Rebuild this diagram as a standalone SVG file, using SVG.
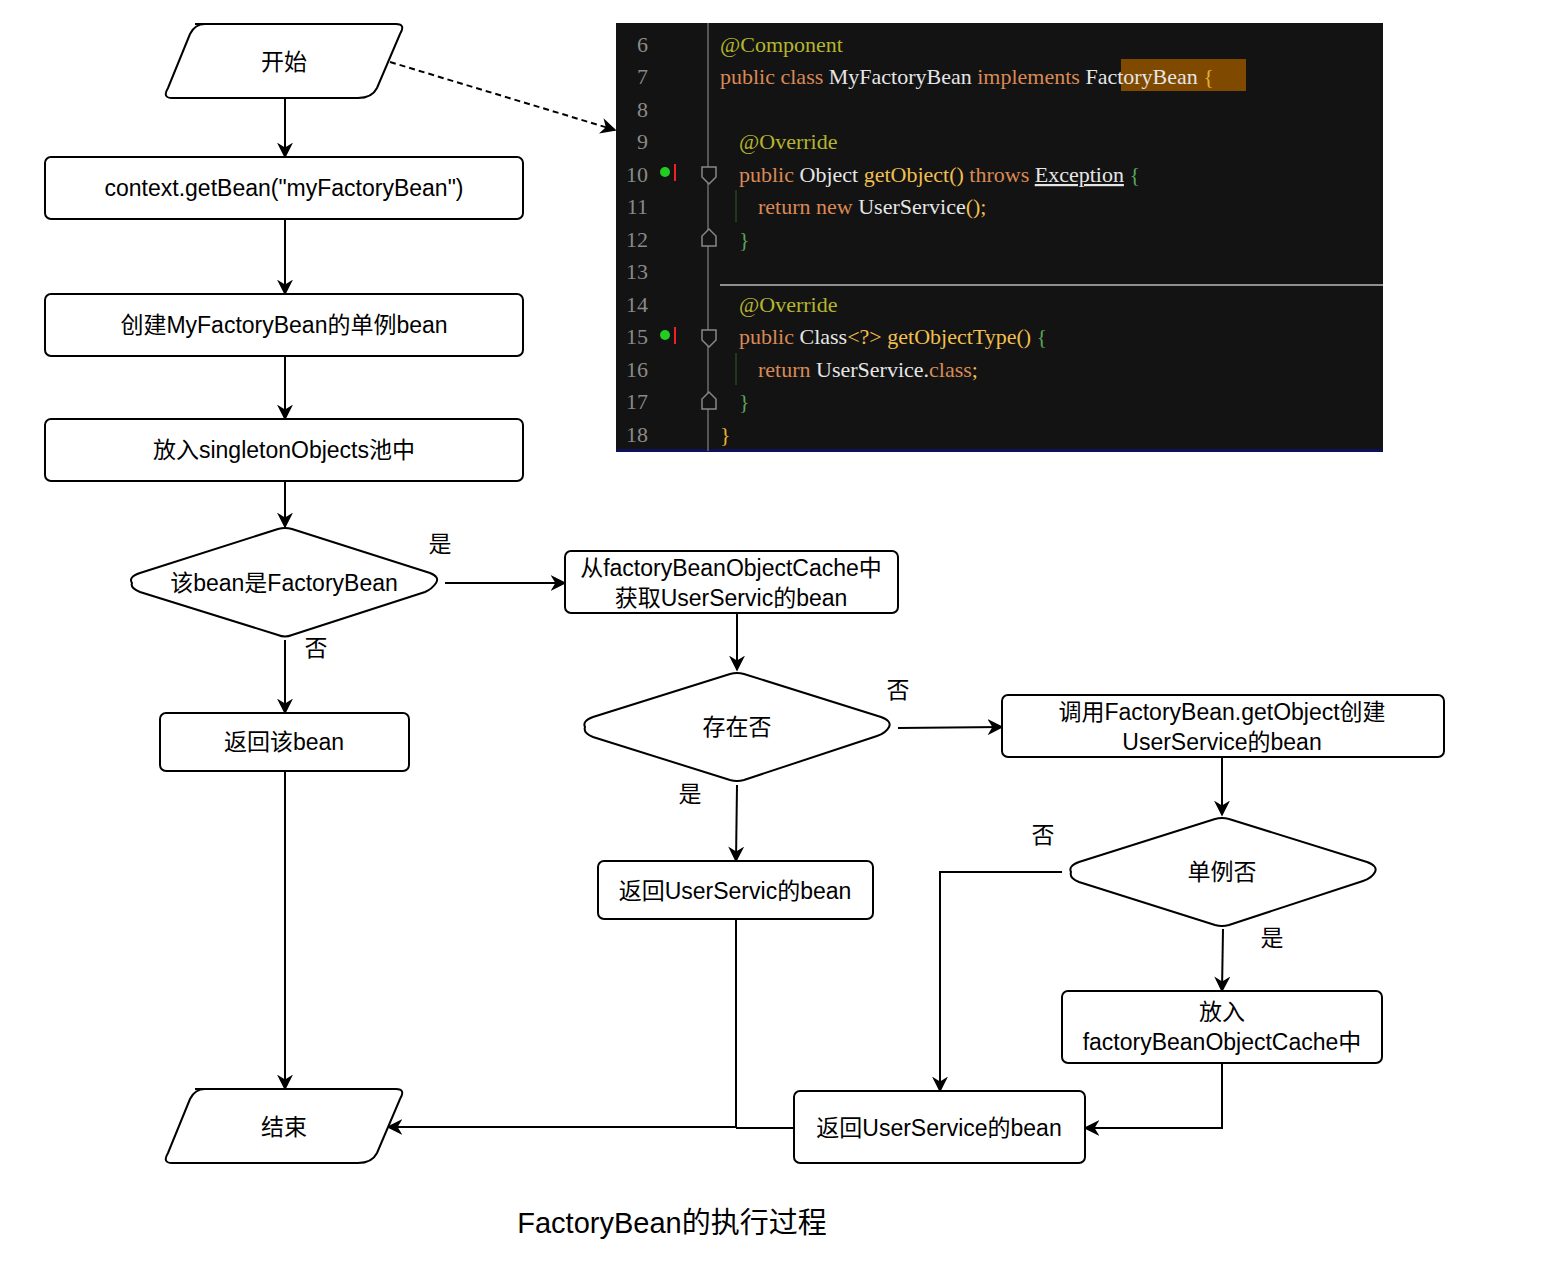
<svg xmlns="http://www.w3.org/2000/svg" width="1566" height="1283" viewBox="0 0 1566 1283">
<defs>
<marker id="a" viewBox="0 0 10 10" refX="9" refY="5" markerWidth="10" markerHeight="10" markerUnits="userSpaceOnUse" orient="auto"><path d="M0,0 L10,5 L0,10 L3,5 Z" fill="#000"/></marker>
<marker id="b" viewBox="0 0 10 10" refX="9" refY="5" markerWidth="16" markerHeight="16" markerUnits="userSpaceOnUse" orient="auto"><path d="M0,0 L10,5 L0,10 L3,5 Z" fill="#000"/></marker>
</defs>
<style>
.n{fill:#fff;stroke:#000;stroke-width:2}
.t{font-family:"Liberation Sans","Noto Sans CJK SC",sans-serif;font-size:23px;text-anchor:middle;fill:#000}
.c{fill:none;stroke:#000;stroke-width:2;marker-end:url(#b)}
.code{font-family:"Liberation Serif","DejaVu Serif",serif;font-size:22px}
.ln{fill:#8a8a8a;text-anchor:end}
.k{fill:#d98a55}.w{fill:#e6e6e6}.an{fill:#b5b52e}.m{fill:#f0bf50}.g{fill:#5aa35a}.y{fill:#e3b030}
</style>
<rect width="1566" height="1283" fill="#fff"/>
<g id="code">
<rect x="616" y="23" width="767" height="428" fill="#131313"/>
<rect x="616" y="449" width="767" height="3" fill="#10105a"/>
<line x1="708" y1="23" x2="708" y2="451" stroke="#555" stroke-width="2"/>
<line x1="720" y1="285" x2="1383" y2="285" stroke="#bbb" stroke-width="1.5"/>
<rect x="1121" y="59" width="125" height="32" fill="#7f4a00"/>
<g class="code">
<text x="648" y="52" class="ln">6</text><text x="648" y="84" class="ln">7</text><text x="648" y="117" class="ln">8</text><text x="648" y="149" class="ln">9</text><text x="648" y="182" class="ln">10</text><text x="648" y="214" class="ln">11</text><text x="648" y="247" class="ln">12</text><text x="648" y="279" class="ln">13</text><text x="648" y="312" class="ln">14</text><text x="648" y="344" class="ln">15</text><text x="648" y="377" class="ln">16</text><text x="648" y="409" class="ln">17</text><text x="648" y="442" class="ln">18</text>
<text x="720" y="52" class="an">@Component</text>
<text x="720" y="84"><tspan class="k">public class </tspan><tspan class="w">MyFactoryBean </tspan><tspan class="k">implements </tspan><tspan class="w">FactoryBean </tspan><tspan class="y">{</tspan></text>
<text x="739" y="149" class="an">@Override</text>
<text x="739" y="182"><tspan class="k">public </tspan><tspan class="w">Object </tspan><tspan class="m">getObject() </tspan><tspan class="k">throws </tspan><tspan class="w" text-decoration="underline">Exception</tspan><tspan class="g"> {</tspan></text>
<text x="758" y="214"><tspan class="k">return new </tspan><tspan class="w">UserService</tspan><tspan class="m">();</tspan></text>
<text x="739" y="247" class="g">}</text>
<text x="739" y="312" class="an">@Override</text>
<text x="739" y="344"><tspan class="k">public </tspan><tspan class="w">Class</tspan><tspan class="m">&lt;?&gt; getObjectType() </tspan><tspan class="g">{</tspan></text>
<text x="758" y="377"><tspan class="k">return </tspan><tspan class="w">UserService.</tspan><tspan class="k">class</tspan><tspan class="m">;</tspan></text>
<text x="739" y="409" class="g">}</text>
<text x="720" y="442" class="y">}</text>
</g>
<line x1="736" y1="190" x2="736" y2="222" stroke="#2f5f2f"/><line x1="736" y1="353" x2="736" y2="385" stroke="#2f5f2f"/>
<circle cx="665" cy="172" r="5" fill="#22cc22"/><line x1="675" y1="181" x2="675" y2="164" stroke="#e22" stroke-width="2"/>
<circle cx="665" cy="335" r="5" fill="#22cc22"/><line x1="675" y1="344" x2="675" y2="327" stroke="#e22" stroke-width="2"/>
<path d="M702,167 h14 v10 l-7,7 l-7,-7 Z M702,330 h14 v10 l-7,7 l-7,-7 Z M702,246 h14 v-10 l-7,-7 l-7,7 Z M702,409 h14 v-10 l-7,-7 l-7,7 Z" fill="#131313" stroke="#888" stroke-width="1.5"/>
</g>
<g id="connectors">
<line x1="390" y1="62" x2="615" y2="130" stroke="#000" stroke-width="2" stroke-dasharray="6,4" marker-end="url(#b)"/>
<path class="c" d="M285,98 V157"/>
<path class="c" d="M285,219 V294"/>
<path class="c" d="M285,356 V419"/>
<path class="c" d="M285,481 V527"/>
<path class="c" d="M445,583 H565"/>
<path class="c" d="M285,640 V713"/>
<path class="c" d="M285,771 V1089"/>
<path class="c" d="M737,613 V670"/>
<path class="c" d="M898,728 L1002,727"/>
<path class="c" d="M737,785 L736,861"/>
<path class="c" d="M736,919 V1127 H388"/>
<path d="M794,1128 H736" stroke="#000" stroke-width="2"/>
<path class="c" d="M1222,757 V815"/>
<path class="c" d="M1062,872 H940 V1091"/>
<path class="c" d="M1223,929 L1222,991"/>
<path class="c" d="M1222,1063 V1128 H1085"/>
<text x="440" y="552" class="t">是</text>
<text x="316" y="656" class="t">否</text>
<text x="898" y="698" class="t">否</text>
<text x="690" y="802" class="t">是</text>
<text x="1043" y="843" class="t">否</text>
<text x="1272" y="946" class="t">是</text>
</g>
<g id="start"><path class="n" d="M195,24 H396 Q406,24 400,34 L377,88 Q372,98 358,98 H172 Q162,98 168,88 L190,34 Q195,24 205,24 Z"/><text x="284" y="70" class="t">开始</text></g>
<g id="b1"><rect class="n" x="45" y="157" width="478" height="62" rx="6"/><text x="284" y="196" class="t">context.getBean("myFactoryBean")</text></g>
<g id="b2"><rect class="n" x="45" y="294" width="478" height="62" rx="6"/><text x="284" y="333" class="t">创建MyFactoryBean的单例bean</text></g>
<g id="b3"><rect class="n" x="45" y="419" width="478" height="62" rx="6"/><text x="284" y="458" class="t">放入singletonObjects池中</text></g>
<g id="d1"><path class="n" d="M132,583 Q128,577 140,573 L278,529 Q285,527 292,529 L430,573 Q440,577 436,583 Q432,589 425,592 L292,635 Q285,638 278,635 L140,592 Q130,588 132,583 Z"/><text x="284" y="591" class="t">该bean是FactoryBean</text></g>
<g id="b4"><rect class="n" x="160" y="713" width="249" height="58" rx="6"/><text x="284" y="750" class="t">返回该bean</text></g>
<g id="end"><path class="n" d="M195,1089 H396 Q406,1089 400,1099 L377,1153 Q372,1163 358,1163 H172 Q162,1163 168,1153 L190,1099 Q195,1089 205,1089 Z"/><text x="284" y="1135" class="t">结束</text></g>
<g id="b5"><rect class="n" x="565" y="551" width="333" height="62" rx="6"/><text x="731" y="576" class="t">从factoryBeanObjectCache中</text><text x="731" y="606" class="t">获取UserServic的bean</text></g>
<g id="d2"><path class="n" d="M585,727 Q582,721 593,717 L730,674 Q737,672 744,674 L881,717 Q892,721 889,727 Q886,733 877,736 L744,780 Q737,782 730,780 L593,737 Q583,733 585,727 Z"/><text x="737" y="735" class="t">存在否</text></g>
<g id="b6"><rect class="n" x="598" y="861" width="275" height="58" rx="6"/><text x="735" y="899" class="t">返回UserServic的bean</text></g>
<g id="b7"><rect class="n" x="1002" y="695" width="442" height="62" rx="6"/><text x="1222" y="720" class="t">调用FactoryBean.getObject创建</text><text x="1222" y="750" class="t">UserService的bean</text></g>
<g id="d3"><path class="n" d="M1071,872 Q1068,866 1079,862 L1215,819 Q1222,817 1229,819 L1367,862 Q1378,866 1375,872 Q1372,878 1363,881 L1229,925 Q1222,927 1215,925 L1079,882 Q1069,878 1071,872 Z"/><text x="1222" y="880" class="t">单例否</text></g>
<g id="b8"><rect class="n" x="1062" y="991" width="320" height="72" rx="6"/><text x="1222" y="1020" class="t">放入</text><text x="1222" y="1050" class="t">factoryBeanObjectCache中</text></g>
<g id="b9"><rect class="n" x="794" y="1091" width="291" height="72" rx="6"/><text x="939" y="1136" class="t">返回UserService的bean</text></g>
<text x="672" y="1233" class="t" style="font-size:29px">FactoryBean的执行过程</text>
</svg>
